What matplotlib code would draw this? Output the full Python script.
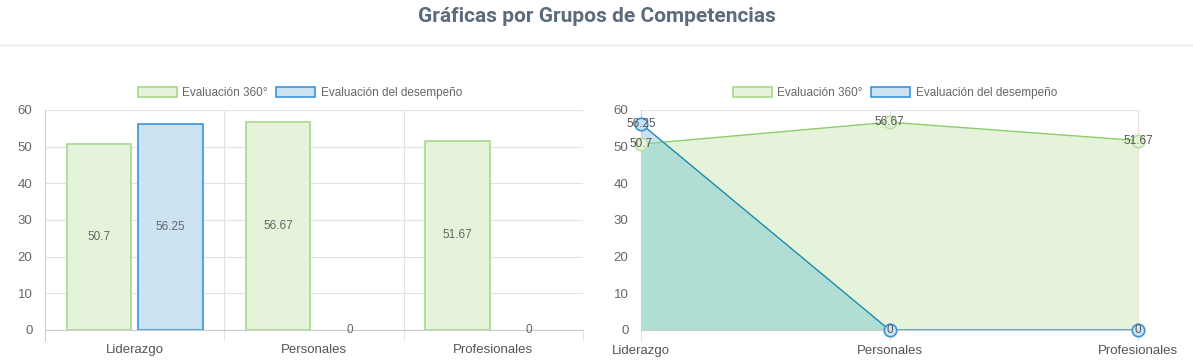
import numpy as np
import matplotlib.pyplot as plt
from matplotlib.patches import Patch

categorias = ['Liderazgo', 'Personales', 'Profesionales']
eval_360 = [50.7, 56.67, 51.67]
eval_desempeno = [56.25, 0, 0]
etiquetas = ['Evaluación 360°', 'Evaluación del desempeño']
yticks = [0, 10, 20, 30, 40, 50, 60]

verde_fill = '#e6f3db'
verde_edge = '#a6d98a'
azul_fill = '#cbe2f3'
azul_edge = '#3a95d8'
teal_fill = '#b1ded4'
teal_line = '#1a8cae'
grid_c = '#e2e2e2'
txt_c = '#666666'
W, H = 1193, 362

plt.rcParams['font.family'] = ['Liberation Sans', 'DejaVu Sans']
fig = plt.figure(figsize=(W / 100, H / 100), dpi=100)

fig.text(597 / W, 1 - 17 / H, 'Gráficas por Grupos de Competencias', ha='center', va='center',
         fontsize=15, fontweight='bold', color='#5b6b7c', family=['Roboto', 'DejaVu Sans'])
fig.add_artist(plt.Line2D([0, 1], [1 - 45 / H, 1 - 45 / H], color='#e6e6e6', lw=1))


def estilo(ax):
    ax.set_ylim(0, 60)
    ax.set_yticks(yticks)
    ax.grid(axis='y', color=grid_c, lw=0.8)
    ax.set_axisbelow(True)
    for s in ['top', 'right']:
        ax.spines[s].set_visible(False)
    ax.spines['left'].set_color('#d0d0d0')
    ax.spines['bottom'].set_color('#cccccc')
    ax.tick_params(axis='y', length=0, pad=9, labelsize=9.5, labelcolor=txt_c)
    ax.tick_params(axis='x', labelsize=9.5, labelcolor='#555555')


def leyenda(ax, cx):
    handles = [Patch(facecolor=verde_fill, edgecolor=verde_edge, lw=1.2),
               Patch(facecolor=azul_fill, edgecolor=azul_edge, lw=1.2)]
    leg = ax.legend(handles, etiquetas, loc='center', bbox_to_anchor=(cx, 1 - 93 / H),
                    bbox_transform=fig.transFigure, ncol=2, frameon=False, fontsize=8.5,
                    handlelength=3.3, handleheight=1.0, columnspacing=0.7, handletextpad=0.5)
    for t in leg.get_texts():
        t.set_color(txt_c)


# barras
ax1 = fig.add_axes([45 / W, 32 / H, (583 - 45) / W, 220 / H])
x = np.arange(len(categorias))
bw = 0.36
ax1.bar(x - 0.2, eval_360, bw, color=verde_fill,
        edgecolor=[verde_edge if v else 'none' for v in eval_360], lw=1.2)
ax1.bar(x + 0.2, eval_desempeno, bw, color=azul_fill,
        edgecolor=[azul_edge if v else 'none' for v in eval_desempeno], lw=1.2)
ax1.set_xlim(-0.5, 2.5)
estilo(ax1)
ax1.set_xticks(x)
ax1.set_xticklabels(categorias)
ax1.tick_params(axis='x', length=0, pad=10)
ax1.set_xticks([0.5, 1.5, 2.5], minor=True)
ax1.tick_params(axis='x', which='minor', length=8, color=grid_c)
ax1.spines['left'].set_bounds(-3, 60)
for xb in [0.5, 1.5, 2.5]:
    ax1.axvline(xb, color=grid_c, lw=0.8, zorder=0)
for xi, v in zip(x - 0.2, eval_360):
    ax1.text(xi, v / 2, f'{v:g}', ha='center', va='center', fontsize=8.5, color=txt_c)
for xi, v in zip(x + 0.2, eval_desempeno):
    ax1.text(xi, v / 2, f'{v:g}', ha='center', va='center', fontsize=8.5, color=txt_c)
leyenda(ax1, 300 / W)

# lineas
ax2 = fig.add_axes([641 / W, 32 / H, (1138 - 641) / W, 220 / H])
d = np.array(eval_desempeno, dtype=float)
g = np.array(eval_360, dtype=float)
ax2.fill_between(x, g, 0, color=verde_fill, lw=0)
ax2.plot(x, g, color='#8ccd6a', lw=1)
ax2.fill_between(x, d, 0, color=teal_fill, lw=0)
ax2.fill_between(x, g, d, where=d > g, interpolate=True, color=azul_fill, lw=0)
ax2.plot(x, d, color=teal_line, lw=1)
ax2.plot(x, g, 'o', ms=9, mfc=verde_fill, mec='#b7e09e', mew=1.2, clip_on=False, zorder=5)
ax2.plot(x, d, 'o', ms=9, mfc=azul_fill, mec=azul_edge, mew=1.2, clip_on=False, zorder=5)
ax2.set_xlim(0, 2)
estilo(ax2)
ax2.set_xticks(x)
ax2.set_xticklabels(categorias)
ax2.tick_params(axis='x', length=8, color=grid_c, pad=3)
ax2.grid(axis='x', color=grid_c, lw=0.8)
ax2.spines['right'].set_visible(True)
ax2.spines['right'].set_color(grid_c)
for xi, v in zip(x, eval_360):
    ax2.text(xi, v, f'{v:g}', ha='center', va='center', fontsize=8.5, color='#555555', zorder=6)
for xi, v in zip(x, eval_desempeno):
    ax2.text(xi, v, f'{v:g}', ha='center', va='center', fontsize=8.5, color='#555555', zorder=6)
leyenda(ax2, 895 / W)

fig.savefig('out.png', dpi=100)
